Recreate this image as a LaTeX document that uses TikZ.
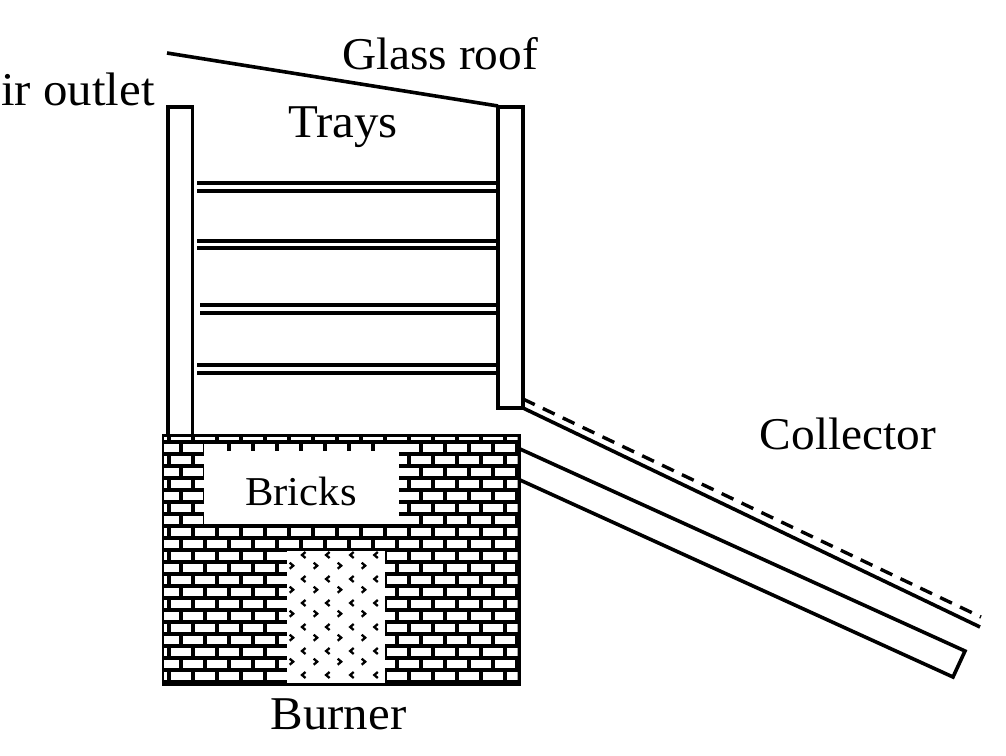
\documentclass[tikz,border=0pt]{standalone}
\usepackage{fontspec}
\setmainfont[FakeStretch=1.04]{Liberation Serif}
\newcommand{\lbl}{\fontsize{47}{50}\selectfont}
\newcommand{\lblmd}{\fontsize{45.5}{50}\selectfont}
\newcommand{\lblsm}{\fontsize{41}{44}\selectfont}
\tikzset{
  wall/.style={draw=black,line width=3.8pt,fill=white},
  ink/.style={draw=black,line width=3.6pt},
  tray/.style={draw=black,line width=4pt},
  brick/.style={fill=white,draw=none},
  txt/.style={inner sep=0pt,text=black,anchor=base},
}
\begin{document}
\begin{tikzpicture}[x=1pt,y=-1pt]
\useasboundingbox (0,0) rectangle (1006,755);
\fill[white] (0,0) rectangle (1006,755);
% roof
\coordinate (roofL) at (167,53);
\coordinate (roofR) at (498,106);
\draw[ink] (roofL) -- (roofR);
% walls
\draw[wall] (168,107) rectangle (192.5,436);
\draw[wall] (498,107) rectangle (523,408);
% trays
\foreach \xs/\ya/\yb in {197/183/191, 197/241/248, 200/305/313, 197/365/373}{
  \draw[tray] (\xs,\ya) -- (497,\ya);
  \draw[tray] (\xs,\yb) -- (497,\yb);
}
% brick block
\fill[black] (161.5,434) rectangle (520.5,686);
\begin{scope}
\clip (164,437) rectangle (517.5,683);
\foreach \r in {0,1,...,10}{
  \pgfmathsetmacro{\ya}{432+24*\r}
  \foreach \c in {-1,0,...,15}{
    \pgfmathsetmacro{\xa}{171+24*\c}
    \fill[brick] (\xa,\ya) rectangle ++(20,8);
    \fill[brick] (\xa+12,\ya+12) rectangle ++(20,8);
  }
}
\end{scope}
% Bricks panel
\fill[brick] (204,444) rectangle (399,524);
\foreach \c in {0,1,...,6}{
  \pgfmathsetmacro{\xa}{227+24*\c}
  \fill[black] (\xa,444) rectangle ++(4,7);
}
% Burner panel
\fill[brick] (287,551) rectangle (385,683);
\begin{scope}[line width=2.3pt,line cap=butt]
\foreach \r in {0,1,...,5}{
  \pgfmathsetmacro{\ya}{555+24*\r}
  \foreach \c in {0,1,2,3}{
    \pgfmathsetmacro{\xa}{303.5+24.1*\c}
    \draw (\xa+2,\ya-3) -- (\xa-1.5,\ya) -- (\xa+2,\ya+3);
  }
}
\foreach \r in {0,1,...,4}{
  \pgfmathsetmacro{\ya}{565.7+24*\r}
  \foreach \c in {0,1,2,3}{
    \pgfmathsetmacro{\xa}{291.7+24*\c}
    \draw (\xa-2,\ya-3) -- (\xa+1.5,\ya) -- (\xa-2,\ya+3);
  }
}
\end{scope}
% collector
\coordinate (cA) at (523,408);
\coordinate (cB) at (980,627);
\coordinate (dA) at (523,399);
\coordinate (dB) at (981,617);
\coordinate (pA) at (520,449);
\coordinate (pB) at (965,651);
\coordinate (pC) at (953,677);
\coordinate (pD) at (520,480);
\draw[ink] (cA) -- (cB);
\draw[draw=black,line width=3.4pt,dash pattern=on 13pt off 9pt] (dA) -- (dB);
\draw[ink,line join=miter] (pA) -- (pB) -- (pC) -- (pD);
% labels
\node[txt,font=\lblmd] (glass) at (440,69) {Glass roof};
\node[txt,font=\lbl] (trays) at (343,137) {Trays};
\node[txt,font=\lbl,anchor=base east] (air) at (155,105) {ir outlet};
\node[txt,font=\lblmd] (coll) at (848,449) {Collector};
\node[txt,font=\lblsm] (bricks) at (301,505) {Bricks};
\node[txt,font=\lbl] (burner) at (338.5,729) {Burner};
\end{tikzpicture}
\end{document}
